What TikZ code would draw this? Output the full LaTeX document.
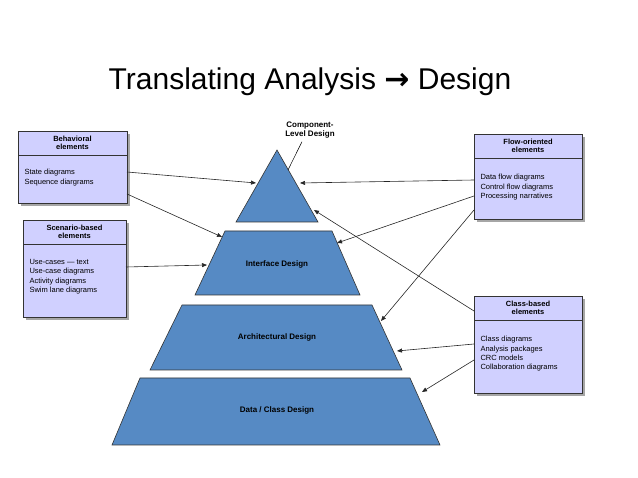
\documentclass[tikz,border=0pt]{standalone}
\usepackage{fontspec}
\setmainfont{Liberation Sans}
\newfontfamily\djv{DejaVu Sans}
\usetikzlibrary{arrows.meta}
\definecolor{lav}{RGB}{208,208,255}
\definecolor{pyr}{RGB}{86,138,196}
\begin{document}
\begin{tikzpicture}[x=1pt,y=-1pt,
  pz/.style={fill=pyr,draw=black!80,line width=0.6pt},
  bx/.style={fill=lav,draw=black!80,line width=0.7pt},
  sh/.style={fill=black!35},
  hd/.style={font=\fontsize{7.5}{8.5}\selectfont\bfseries,align=center},
  it/.style={font=\fontsize{7.5}{9.2}\selectfont,align=left,anchor=north west},
  pl/.style={font=\fontsize{8}{9}\selectfont\bfseries},
  ar/.style={-{Triangle[length=5pt,width=4pt]},line width=0.6pt,black!85}]
\useasboundingbox (0,0) rectangle (638,478);
\node (title) at (310,82) {\fontsize{30}{34}\selectfont Translating Analysis {\djv\bfseries →} Design};
% pyramid
\draw[pz] (277,150) -- (318,222) -- (236,222) -- cycle;
\draw[pz] (225,231) -- (332,231) -- (360,295) -- (195,295) -- cycle;
\draw[pz] (182,305) -- (372,305) -- (402,370) -- (150,370) -- cycle;
\draw[pz] (140,378) -- (410,378) -- (440,445) -- (112,445) -- cycle;
\node[pl] (ifd) at (277,264) {Interface Design};
\node[pl] (ard) at (277,337) {Architectural Design};
\node[pl] (dcd) at (277,410) {Data / Class Design};
\node[pl,align=center] (cld) at (310,130) {Component-\\Level Design};
\coordinate (cldend) at (288,170);
\draw[line width=0.5pt] (cld.south) ++(-8,0) -- (cldend);
% boxes
\foreach \n/\xa/\ya/\xb/\yb/\yd in {beh/18/131/127/203/155, sce/23/220/126/317/244, flo/474/134/582/219/158, cls/474/296/582/393/320}{
  \fill[sh] (\xa+3,\ya+3) rectangle (\xb+3,\yb+3);
  \draw[bx] (\xa,\ya) rectangle (\xb,\yb);
  \draw[line width=0.6pt,black!80] (\xa,\yd) -- (\xb,\yd);
}
\node[hd] (behh) at (72.5,143) {Behavioral\\elements};
\node[it] (behi) at (21,166) {State diagrams\\Sequence diargrams};
\node[hd] (sceh) at (74.5,232) {Scenario-based\\elements};
\node[it] (scei) at (26,256) {Use-cases --- text\\Use-case diagrams\\Activity diagrams\\Swim lane diagrams};
\node[hd] (floh) at (528,146) {Flow-oriented\\elements};
\node[it] (floi) at (477,171) {Data flow diagrams\\Control flow diagrams\\Processing narratives};
\node[hd] (clsh) at (528,308) {Class-based\\elements};
\node[it] (clsi) at (477,333) {Class diagrams\\Analysis packages\\CRC models\\Collaboration diagrams};
% arrow endpoints
\coordinate (b1) at (127,172); \coordinate (t1) at (256,183);
\coordinate (b2) at (127,194); \coordinate (i1) at (222,237);
\coordinate (s1) at (126,267); \coordinate (i2) at (207,265);
\coordinate (f1) at (474,180); \coordinate (t2) at (300,183);
\coordinate (f2) at (474,196); \coordinate (i3) at (337,243);
\coordinate (f3) at (474,210); \coordinate (a1) at (381,321);
\coordinate (c0) at (474,311); \coordinate (t3) at (314,210);
\coordinate (c1) at (474,344); \coordinate (a2) at (397,351);
\coordinate (c2) at (474,360); \coordinate (d1) at (422,392);
\draw[ar] (b1) -- (t1);
\draw[ar] (b2) -- (i1);
\draw[ar] (s1) -- (i2);
\draw[ar] (f1) -- (t2);
\draw[ar] (f2) -- (i3);
\draw[ar] (f3) -- (a1);
\draw[ar] (c0) -- (t3);
\draw[ar] (c1) -- (a2);
\draw[ar] (c2) -- (d1);
\end{tikzpicture}
\end{document}
